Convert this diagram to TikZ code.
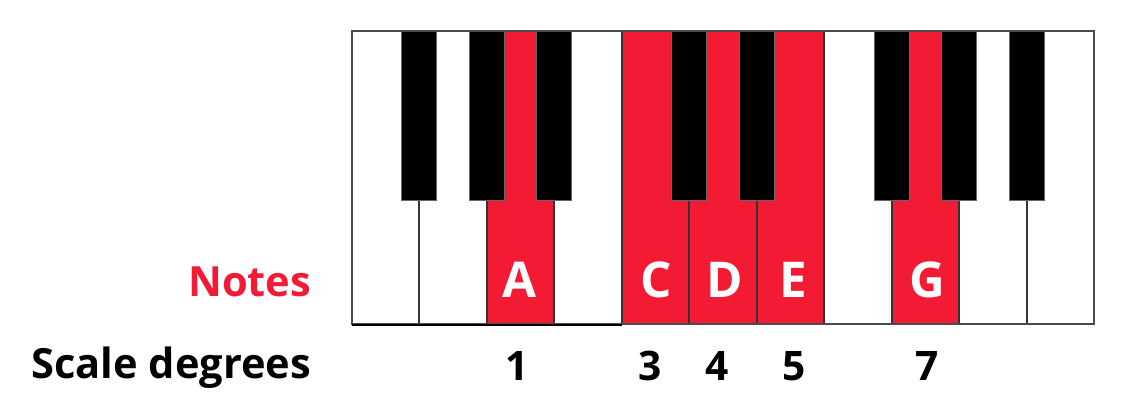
\documentclass[tikz,border=0pt]{standalone}
\usepackage{fontspec}
\setmainfont{Open Sans}
\definecolor{notered}{RGB}{243,27,52}

\tikzset{every picture/.style={line width=0.75pt}}
\tikzset{
  whitekey/.style={draw=black!80, line width=1.2pt, fill=white},
  redkey/.style={whitekey, fill=notered},
  blackkey/.style={draw=black!60, line width=0.6pt, fill=black},
  keyname/.style={anchor=base, inner sep=0pt, text=white, font=\fontsize{37}{40}\selectfont\bfseries},
  degree/.style={anchor=base, inner sep=0pt, font=\fontsize{30.5}{34}\selectfont\bfseries},
  rowname/.style={anchor=base east, inner sep=0pt, font=\fontsize{31.2}{34}\selectfont\bfseries},
}

\begin{document}
\begin{tikzpicture}[x=0.75pt,y=0.75pt,yscale=-1,xscale=1]
\path (0,0) rectangle (1124,414); %set diagram size

%White keys
\foreach \i in {0,...,10}
  \draw [whitekey] ({351.7+67.5*\i},31) rectangle ({419.2+67.5*\i},324) ;
%Red keys: A C D E G
\foreach \i in {2,4,5,6,8}
  \draw [redkey] ({351.7+67.5*\i},31) rectangle ({419.2+67.5*\i},324) ;
%Black keys
\foreach \k in {1,2,3,5,6,8,9,10}
  \draw [blackkey] ({334.2+67.5*\k},31) rectangle ({369.2+67.5*\k},200) ;
%Frame
\draw [draw=black!70, line width=1.2pt] (351.7,31) rectangle (1094.2,324) ;
%Straight Lines
\draw [line width=1.4pt] (351.7,325) -- (621.7,325) ;

% Key names
\node [keyname] (nameA) at (519.5,297) {A};
\node [keyname] (nameC) at (656.5,297) {C};
\node [keyname] (nameD) at (724.3,297) {D};
\node [keyname] (nameE) at (793.3,297) {E};
\node [keyname] (nameG) at (927,297) {G};

% Scale degrees
\node [degree] (deg1) at (516.7,380.5) {1};
\node [degree] (deg3) at (650,380.5) {3};
\node [degree] (deg4) at (717.3,380.5) {4};
\node [degree] (deg5) at (794.3,380.5) {5};
\node [degree] (deg7) at (926.7,380.5) {7};

% Row names
\node [rowname, text=notered] (notes) at (311.7,296.5) {Notes};
\node [rowname] (degrees) at (311.7,378) {Scale degrees};

\end{tikzpicture}
\end{document}
